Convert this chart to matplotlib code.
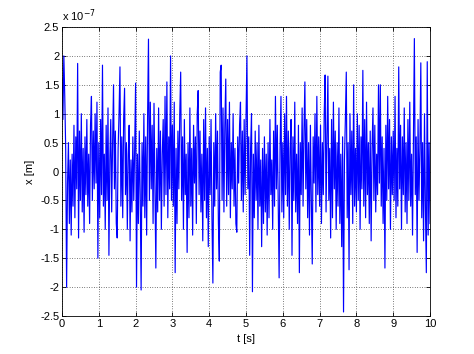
import numpy as np
import matplotlib
matplotlib.use("Agg")
import matplotlib.pyplot as plt

# ── data (displacement in units of 1e-7 m, sampled every 0.025 s) ─────────
DT = 0.025
x_s0 = [1.6, 0.9, 2.0, 1.3, 0.4, -2.0, -0.2, 0.5, -0.9, 0.2, -1.1, 0.3, -0.6, 0.8, -0.8, 0.6, -0.3, 1.87, -1.15, 0.7,
        -0.5, 1.0, -0.7, 0.4, -1.05, 0.6, -0.4, 0.9, -0.6, 0.3, -0.9, 0.8, 1.3, -0.5, 0.7, -0.3, 1.0, -0.2, 1.2, -1.5]
x_s1 = [0.5, -0.8, 0.9, -0.4, 1.84, -0.6, 0.3, -1.0, 0.8, -0.5, 1.1, -1.45, 0.2, 0.9, -0.7, 0.5, 1.5, -0.3, 0.7, -0.9,
        -1.15, 0.4, 1.0, 1.81, -0.6, 0.6, -0.8, 0.9, 1.44, -0.4, 0.5, -1.0, 0.3, 0.8, -1.2, 0.2, -0.7, 0.6, -0.5, 0.4]
x_s2 = [1.53, -2.0, 0.3, -0.9, 0.7, -0.4, -2.05, 0.5, -0.6, 1.0, -0.8, 0.6, -1.1, 0.9, 2.29, -0.5, 1.2, -0.3, 0.8, -0.9,
        1.18, -0.2, -1.67, 0.4, -0.7, 1.1, -0.5, 0.7, -1.0, 0.3, 0.9, -0.6, 1.3, -0.4, 1.55, -0.8, 0.6, -0.3, 2.0, -0.5]
x_s3 = [0.8, -0.6, 1.2, -1.75, 0.4, -0.9, 0.7, -0.3, 1.0, 1.72, -0.5, 0.6, -1.0, 0.9, -0.4, 0.3, -1.4, 0.5, -0.8, 1.1,
        -0.6, 0.4, -1.1, 0.8, -0.2, 0.6, -0.9, 1.0, 1.4, -0.4, 0.7, -0.7, 0.3, -1.2, 0.9, -0.5, 1.1, -0.8, 0.4, -1.3]
x_s4 = [0.6, -0.4, 0.9, -0.8, -1.93, 0.5, -0.6, 1.0, -0.3, 0.7, -0.9, -1.55, 1.72, 1.84, -0.5, 1.1, -0.7, 0.8, 1.6, -0.6,
        0.9, -0.4, 1.2, -0.8, 0.5, -0.3, 1.0, -0.6, 0.4, -0.9, -1.05, 0.6, -0.2, 0.8, 1.2, -0.5, 0.7, -0.7, 0.9, -0.4]
x_s5 = [0.9, 2.0, -0.3, 0.6, -1.45, 0.4, 1.0, -2.08, 0.3, -0.8, 0.7, -0.5, 0.5, -1.0, 0.8, -0.6, 0.2, -1.3, 0.4, -0.9,
        0.6, -0.7, 0.3, -1.1, 0.5, -0.8, 0.9, -0.4, 0.2, -1.0, 0.7, -0.6, 1.3, -0.3, 0.8, -0.5, -1.84, 0.4, 1.3, -0.7]
x_s6 = [0.5, -0.8, 1.0, -0.4, 1.3, -0.6, 0.7, -1.0, 0.4, 0.9, -1.45, 0.6, -0.5, 1.2, -0.7, 0.3, -0.9, 0.8, -1.75, 0.5,
        -0.4, 1.1, -0.6, 0.7, 1.55, -0.3, 0.9, -0.8, 0.5, -1.1, 0.8, -0.5, -1.6, 0.6, -0.2, 1.0, -0.7, 1.3, -0.4, 0.6]
x_s7 = [-0.6, 0.8, -0.9, 0.5, -0.4, 1.0, 1.67, -0.7, 0.6, 1.65, -0.5, 0.4, -1.15, 0.9, -0.8, 1.2, -0.3, 0.7, -1.0, 0.5,
        -0.6, 1.1, -0.9, 0.3, -1.3, 0.6, -2.43, 0.2, 0.9, 1.72, -0.8, 0.5, -1.7, 1.0, -0.4, 0.7, -0.9, 1.5, -0.6, 0.4]
x_s8 = [-0.7, 1.0, -0.5, 0.8, -1.0, 0.6, -0.3, 1.75, -0.6, 0.9, -0.8, 1.2, -0.4, 0.5, -0.9, 0.7, -1.2, 0.4, 1.1, -0.5,
        0.8, -0.7, 0.3, -0.4, 1.5, -0.2, 1.5, -0.6, 0.6, -0.9, 0.4, -1.67, 0.8, -0.5, 1.3, -0.3, 0.9, -1.0, 0.6, -0.4]
x_s9 = [0.7, -0.5, 1.3, -0.8, 0.4, -0.6, 1.81, -0.3, 0.8, -1.0, 0.6, -0.4, 1.1, -0.7, 0.5, -0.9, 0.9, -0.5, 1.2, -0.6,
        0.3, -1.1, 0.7, 2.3, -0.4, 0.6, -1.4, 0.9, -0.5, 0.4, 1.88, -0.8, 0.5, -1.2, 1.0, -0.6, -1.75, 1.9, -1.1, 0.5]
x_end = [-0.9]

x_vals = np.array(x_s0 + x_s1 + x_s2 + x_s3 + x_s4 + x_s5 + x_s6 + x_s7 + x_s8 + x_s9 + x_end)
t_vals = np.arange(len(x_vals)) * DT

X_TICKS = list(range(0, 11))
Y_TICKS = [-2.5, -2, -1.5, -1, -0.5, 0, 0.5, 1, 1.5, 2, 2.5]
Y_TICKLABELS = ["-2.5", "-2", "-1.5", "-1", "-0.5", "0", "0.5", "1", "1.5", "2", "2.5"]

# ── plot ──────────────────────────────────────────────────────────────────
plt.rcParams["font.family"] = ["Liberation Sans", "DejaVu Sans"]
fig = plt.figure(figsize=(4.74, 3.54), dpi=100)
ax = fig.add_axes([0.1308, 0.1073, 0.7764, 0.8164])

ax.plot(t_vals, x_vals, color="#0000ff", lw=0.85)

ax.set_xlim(0, 10)
ax.set_ylim(-2.5, 2.5)
ax.set_xticks(X_TICKS)
ax.set_yticks(Y_TICKS)
ax.set_yticklabels(Y_TICKLABELS)
ax.tick_params(direction="in", top=True, right=True, labelsize=8, length=3, width=0.6, pad=2)
ax.grid(True, color="black", linestyle=(0, (1, 2.5)), linewidth=0.5)
for s in ax.spines.values():
    s.set_linewidth(0.6)

ax.set_xlabel("t [s]", fontsize=8, labelpad=4)
ax.set_ylabel("x [m]", fontsize=8, labelpad=4)
ax.text(0.0, 1.012, r"x 10$^{-7}$", transform=ax.transAxes, fontsize=8, ha="left", va="bottom")

fig.savefig("out.png", dpi=100)
